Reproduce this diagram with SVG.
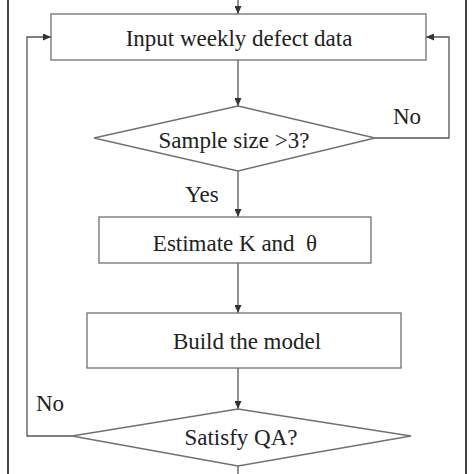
<svg xmlns="http://www.w3.org/2000/svg" width="474" height="474" viewBox="0 0 474 474">
<defs>
<marker id="ah" markerWidth="8" markerHeight="7" refX="8" refY="3.5" orient="auto" markerUnits="userSpaceOnUse">
<path d="M0,0 L8,3.5 L0,7 Z" fill="#333"/>
</marker>
<style>
.n{fill:#fff;stroke:#707070;stroke-width:1.3}
.c{fill:none;stroke:#555;stroke-width:1.3}
.f{fill:none;stroke:#444;stroke-width:2}
text{font-family:"Liberation Serif","Times New Roman",serif;font-size:23px;fill:#222;text-anchor:middle}
</style>
</defs>
<rect width="474" height="474" fill="#fff"/>
<g id="frame">
<line class="f" x1="8" y1="0" x2="8" y2="474"/>
<line class="f" x1="466" y1="0" x2="466" y2="474"/>
</g>
<g id="connectors">
<line class="c" x1="238" y1="0" x2="238" y2="14" marker-end="url(#ah)"/>
<line class="c" x1="238" y1="60" x2="238" y2="106" marker-end="url(#ah)"/>
<polyline class="c" points="375,138 449,138 449,37 426,37" marker-end="url(#ah)"/>
<line class="c" x1="238" y1="171" x2="238" y2="217" marker-end="url(#ah)"/>
<line class="c" x1="238" y1="263" x2="238" y2="313" marker-end="url(#ah)"/>
<line class="c" x1="238" y1="368" x2="238" y2="409" marker-end="url(#ah)"/>
<polyline class="c" points="72,436 27,436 27,37 51,37" marker-end="url(#ah)"/>
<line class="c" x1="238" y1="466" x2="238" y2="474"/>
<text x="407" y="124">No</text>
<text x="50" y="411">No</text>
<text x="202" y="202">Yes</text>
</g>
<g id="input">
<rect class="n" x="51" y="14" width="375" height="46"/>
<text x="239" y="46">Input weekly defect data</text>
</g>
<g id="sample">
<polygon class="n" points="238,106 375,138 238,171 94,138"/>
<text x="234" y="148">Sample size &gt;3?</text>
</g>
<g id="estimate">
<rect class="n" x="99" y="217" width="272" height="46"/>
<text x="235" y="251" xml:space="preserve">Estimate K and  θ</text>
</g>
<g id="build">
<rect class="n" x="87" y="313" width="314" height="55"/>
<text x="247" y="349">Build the model</text>
</g>
<g id="qa">
<polygon class="n" points="238,409 411,436 238,466 72,436"/>
<text x="241" y="445">Satisfy QA?</text>
</g>
</svg>
